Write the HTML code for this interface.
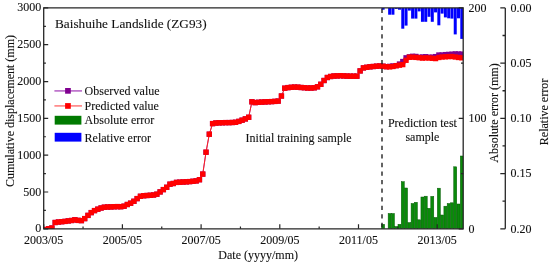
<!DOCTYPE html><html><head><meta charset="utf-8"><style>html,body{margin:0;padding:0;background:#fff;}svg{display:block;}text{font-family:"Liberation Serif","Times New Roman",serif;font-size:12px;fill:#111;stroke:#111;stroke-width:0.1px;}</style></head><body>
<svg width="550" height="264" viewBox="0 0 550 264">
<rect width="550" height="264" fill="#fff"/>
<defs><clipPath id="pc"><rect x="43.7" y="7.9" width="419.5" height="220.9"/></clipPath></defs>
<g clip-path="url(#pc)"><rect x="381.59" y="7.90" width="3.00" height="1.80" fill="#0000ff"/><rect x="381.59" y="224.30" width="3.00" height="4.50" fill="#0a8a0a" stroke="#065a06" stroke-width="0.5"/><rect x="388.15" y="7.90" width="3.00" height="6.80" fill="#0000ff"/><rect x="388.15" y="213.50" width="3.00" height="15.30" fill="#0a8a0a" stroke="#065a06" stroke-width="0.5"/><rect x="391.43" y="7.90" width="3.00" height="6.80" fill="#0000ff"/><rect x="391.43" y="213.50" width="3.00" height="15.30" fill="#0a8a0a" stroke="#065a06" stroke-width="0.5"/><rect x="394.71" y="7.90" width="3.00" height="1.00" fill="#0000ff"/><rect x="394.71" y="226.50" width="3.00" height="2.30" fill="#0a8a0a" stroke="#065a06" stroke-width="0.5"/><rect x="397.99" y="7.90" width="3.00" height="1.80" fill="#0000ff"/><rect x="397.99" y="224.30" width="3.00" height="4.50" fill="#0a8a0a" stroke="#065a06" stroke-width="0.5"/><rect x="401.27" y="7.90" width="3.00" height="20.80" fill="#0000ff"/><rect x="401.27" y="181.70" width="3.00" height="47.10" fill="#0a8a0a" stroke="#065a06" stroke-width="0.5"/><rect x="404.55" y="7.90" width="3.00" height="17.70" fill="#0000ff"/><rect x="404.55" y="188.00" width="3.00" height="40.80" fill="#0a8a0a" stroke="#065a06" stroke-width="0.5"/><rect x="407.83" y="7.90" width="3.00" height="2.70" fill="#0000ff"/><rect x="407.83" y="222.60" width="3.00" height="6.20" fill="#0a8a0a" stroke="#065a06" stroke-width="0.5"/><rect x="411.11" y="7.90" width="3.00" height="10.70" fill="#0000ff"/><rect x="411.11" y="203.50" width="3.00" height="25.30" fill="#0a8a0a" stroke="#065a06" stroke-width="0.5"/><rect x="414.39" y="7.90" width="3.00" height="10.70" fill="#0000ff"/><rect x="414.39" y="202.30" width="3.00" height="26.50" fill="#0a8a0a" stroke="#065a06" stroke-width="0.5"/><rect x="417.66" y="7.90" width="3.00" height="3.50" fill="#0000ff"/><rect x="417.66" y="219.80" width="3.00" height="9.00" fill="#0a8a0a" stroke="#065a06" stroke-width="0.5"/><rect x="420.94" y="7.90" width="3.00" height="13.90" fill="#0000ff"/><rect x="420.94" y="197.00" width="3.00" height="31.80" fill="#0a8a0a" stroke="#065a06" stroke-width="0.5"/><rect x="424.22" y="7.90" width="3.00" height="13.90" fill="#0000ff"/><rect x="424.22" y="196.20" width="3.00" height="32.60" fill="#0a8a0a" stroke="#065a06" stroke-width="0.5"/><rect x="427.50" y="7.90" width="3.00" height="8.90" fill="#0000ff"/><rect x="427.50" y="208.30" width="3.00" height="20.50" fill="#0a8a0a" stroke="#065a06" stroke-width="0.5"/><rect x="430.78" y="7.90" width="3.00" height="13.90" fill="#0000ff"/><rect x="430.78" y="196.40" width="3.00" height="32.40" fill="#0a8a0a" stroke="#065a06" stroke-width="0.5"/><rect x="434.06" y="7.90" width="3.00" height="4.50" fill="#0000ff"/><rect x="434.06" y="217.50" width="3.00" height="11.30" fill="#0a8a0a" stroke="#065a06" stroke-width="0.5"/><rect x="437.34" y="7.90" width="3.00" height="17.40" fill="#0000ff"/><rect x="437.34" y="188.20" width="3.00" height="40.60" fill="#0a8a0a" stroke="#065a06" stroke-width="0.5"/><rect x="440.62" y="7.90" width="3.00" height="5.70" fill="#0000ff"/><rect x="440.62" y="215.00" width="3.00" height="13.80" fill="#0a8a0a" stroke="#065a06" stroke-width="0.5"/><rect x="443.90" y="7.90" width="3.00" height="9.50" fill="#0000ff"/><rect x="443.90" y="206.20" width="3.00" height="22.60" fill="#0a8a0a" stroke="#065a06" stroke-width="0.5"/><rect x="447.18" y="7.90" width="3.00" height="10.40" fill="#0000ff"/><rect x="447.18" y="203.50" width="3.00" height="25.30" fill="#0a8a0a" stroke="#065a06" stroke-width="0.5"/><rect x="450.46" y="7.90" width="3.00" height="10.70" fill="#0000ff"/><rect x="450.46" y="202.80" width="3.00" height="26.00" fill="#0a8a0a" stroke="#065a06" stroke-width="0.5"/><rect x="453.74" y="7.90" width="3.00" height="26.50" fill="#0000ff"/><rect x="453.74" y="166.80" width="3.00" height="62.00" fill="#0a8a0a" stroke="#065a06" stroke-width="0.5"/><rect x="457.01" y="7.90" width="3.00" height="10.40" fill="#0000ff"/><rect x="457.01" y="204.00" width="3.00" height="24.80" fill="#0a8a0a" stroke="#065a06" stroke-width="0.5"/><rect x="460.29" y="7.90" width="3.00" height="31.00" fill="#0000ff"/><rect x="460.29" y="156.00" width="3.00" height="72.80" fill="#0a8a0a" stroke="#065a06" stroke-width="0.5"/>
<polyline points="45.34,229.50 48.62,228.70 51.90,228.00 55.18,222.50 58.46,222.00 61.74,221.70 65.01,221.40 68.29,220.90 71.57,220.50 74.85,219.80 78.13,220.40 81.41,220.60 84.69,218.60 87.97,215.40 91.25,212.60 94.53,210.60 97.81,209.20 101.09,208.00 104.36,207.20 107.64,207.00 110.92,206.90 114.20,206.70 117.48,206.60 120.76,206.70 124.04,206.20 127.32,204.50 130.60,203.20 133.88,201.30 137.16,198.60 140.44,196.30 143.71,195.70 146.99,195.50 150.27,195.30 153.55,195.00 156.83,194.20 160.11,191.90 163.39,189.60 166.67,187.30 169.95,184.20 173.23,183.50 176.51,182.40 179.79,182.20 183.06,182.00 186.34,181.80 189.62,181.60 192.90,181.30 196.18,180.90 199.46,179.70 202.74,174.10 206.02,152.20 209.30,134.20 212.58,123.60 215.86,123.00 219.14,122.80 222.41,122.70 225.69,122.60 228.97,122.60 232.25,122.50 235.53,122.30 238.81,121.40 242.09,120.20 245.37,118.90 248.65,117.30 251.93,101.80 255.21,102.60 258.49,102.30 261.76,102.10 265.04,101.90 268.32,101.70 271.60,101.60 274.88,101.40 278.16,101.10 281.44,96.00 284.72,88.20 288.00,87.60 291.28,87.30 294.56,87.10 297.84,87.20 301.11,87.50 304.39,87.70 307.67,88.00 310.95,88.00 314.23,87.80 317.51,86.80 320.79,84.30 324.07,80.50 327.35,77.50 330.63,76.50 333.91,76.00 337.19,75.90 340.46,75.70 343.74,75.90 347.02,76.10 350.30,76.20 353.58,76.20 356.86,76.20 360.14,70.90 363.42,67.90 366.70,67.30 369.98,66.80 373.26,66.50 376.54,66.20 379.81,66.00 383.09,66.13 386.37,66.70 389.65,66.34 392.93,65.94 396.21,65.62 399.49,64.00 402.77,61.50 406.05,57.80 409.33,56.80 412.61,56.27 415.89,56.43 419.16,57.37 422.44,56.93 425.72,56.70 429.00,57.25 432.28,57.11 435.56,56.60 438.84,55.00 442.12,55.00 445.40,54.60 448.68,54.40 451.96,54.20 455.24,53.90 458.51,54.00 461.79,54.10" fill="none" stroke="#a040b0" stroke-width="1"/>
<rect x="42.69" y="226.85" width="5.3" height="5.3" fill="#800090"/><rect x="45.97" y="226.05" width="5.3" height="5.3" fill="#800090"/><rect x="49.25" y="225.35" width="5.3" height="5.3" fill="#800090"/><rect x="52.53" y="219.85" width="5.3" height="5.3" fill="#800090"/><rect x="55.81" y="219.35" width="5.3" height="5.3" fill="#800090"/><rect x="59.09" y="219.05" width="5.3" height="5.3" fill="#800090"/><rect x="62.36" y="218.75" width="5.3" height="5.3" fill="#800090"/><rect x="65.64" y="218.25" width="5.3" height="5.3" fill="#800090"/><rect x="68.92" y="217.85" width="5.3" height="5.3" fill="#800090"/><rect x="72.20" y="217.15" width="5.3" height="5.3" fill="#800090"/><rect x="75.48" y="217.75" width="5.3" height="5.3" fill="#800090"/><rect x="78.76" y="217.95" width="5.3" height="5.3" fill="#800090"/><rect x="82.04" y="215.95" width="5.3" height="5.3" fill="#800090"/><rect x="85.32" y="212.75" width="5.3" height="5.3" fill="#800090"/><rect x="88.60" y="209.95" width="5.3" height="5.3" fill="#800090"/><rect x="91.88" y="207.95" width="5.3" height="5.3" fill="#800090"/><rect x="95.16" y="206.55" width="5.3" height="5.3" fill="#800090"/><rect x="98.44" y="205.35" width="5.3" height="5.3" fill="#800090"/><rect x="101.71" y="204.55" width="5.3" height="5.3" fill="#800090"/><rect x="104.99" y="204.35" width="5.3" height="5.3" fill="#800090"/><rect x="108.27" y="204.25" width="5.3" height="5.3" fill="#800090"/><rect x="111.55" y="204.05" width="5.3" height="5.3" fill="#800090"/><rect x="114.83" y="203.95" width="5.3" height="5.3" fill="#800090"/><rect x="118.11" y="204.05" width="5.3" height="5.3" fill="#800090"/><rect x="121.39" y="203.55" width="5.3" height="5.3" fill="#800090"/><rect x="124.67" y="201.85" width="5.3" height="5.3" fill="#800090"/><rect x="127.95" y="200.55" width="5.3" height="5.3" fill="#800090"/><rect x="131.23" y="198.65" width="5.3" height="5.3" fill="#800090"/><rect x="134.51" y="195.95" width="5.3" height="5.3" fill="#800090"/><rect x="137.79" y="193.65" width="5.3" height="5.3" fill="#800090"/><rect x="141.06" y="193.05" width="5.3" height="5.3" fill="#800090"/><rect x="144.34" y="192.85" width="5.3" height="5.3" fill="#800090"/><rect x="147.62" y="192.65" width="5.3" height="5.3" fill="#800090"/><rect x="150.90" y="192.35" width="5.3" height="5.3" fill="#800090"/><rect x="154.18" y="191.55" width="5.3" height="5.3" fill="#800090"/><rect x="157.46" y="189.25" width="5.3" height="5.3" fill="#800090"/><rect x="160.74" y="186.95" width="5.3" height="5.3" fill="#800090"/><rect x="164.02" y="184.65" width="5.3" height="5.3" fill="#800090"/><rect x="167.30" y="181.55" width="5.3" height="5.3" fill="#800090"/><rect x="170.58" y="180.85" width="5.3" height="5.3" fill="#800090"/><rect x="173.86" y="179.75" width="5.3" height="5.3" fill="#800090"/><rect x="177.14" y="179.55" width="5.3" height="5.3" fill="#800090"/><rect x="180.41" y="179.35" width="5.3" height="5.3" fill="#800090"/><rect x="183.69" y="179.15" width="5.3" height="5.3" fill="#800090"/><rect x="186.97" y="178.95" width="5.3" height="5.3" fill="#800090"/><rect x="190.25" y="178.65" width="5.3" height="5.3" fill="#800090"/><rect x="193.53" y="178.25" width="5.3" height="5.3" fill="#800090"/><rect x="196.81" y="177.05" width="5.3" height="5.3" fill="#800090"/><rect x="200.09" y="171.45" width="5.3" height="5.3" fill="#800090"/><rect x="203.37" y="149.55" width="5.3" height="5.3" fill="#800090"/><rect x="206.65" y="131.55" width="5.3" height="5.3" fill="#800090"/><rect x="209.93" y="120.95" width="5.3" height="5.3" fill="#800090"/><rect x="213.21" y="120.35" width="5.3" height="5.3" fill="#800090"/><rect x="216.49" y="120.15" width="5.3" height="5.3" fill="#800090"/><rect x="219.76" y="120.05" width="5.3" height="5.3" fill="#800090"/><rect x="223.04" y="119.95" width="5.3" height="5.3" fill="#800090"/><rect x="226.32" y="119.95" width="5.3" height="5.3" fill="#800090"/><rect x="229.60" y="119.85" width="5.3" height="5.3" fill="#800090"/><rect x="232.88" y="119.65" width="5.3" height="5.3" fill="#800090"/><rect x="236.16" y="118.75" width="5.3" height="5.3" fill="#800090"/><rect x="239.44" y="117.55" width="5.3" height="5.3" fill="#800090"/><rect x="242.72" y="116.25" width="5.3" height="5.3" fill="#800090"/><rect x="246.00" y="114.65" width="5.3" height="5.3" fill="#800090"/><rect x="249.28" y="99.15" width="5.3" height="5.3" fill="#800090"/><rect x="252.56" y="99.95" width="5.3" height="5.3" fill="#800090"/><rect x="255.84" y="99.65" width="5.3" height="5.3" fill="#800090"/><rect x="259.11" y="99.45" width="5.3" height="5.3" fill="#800090"/><rect x="262.39" y="99.25" width="5.3" height="5.3" fill="#800090"/><rect x="265.67" y="99.05" width="5.3" height="5.3" fill="#800090"/><rect x="268.95" y="98.95" width="5.3" height="5.3" fill="#800090"/><rect x="272.23" y="98.75" width="5.3" height="5.3" fill="#800090"/><rect x="275.51" y="98.45" width="5.3" height="5.3" fill="#800090"/><rect x="278.79" y="93.35" width="5.3" height="5.3" fill="#800090"/><rect x="282.07" y="85.55" width="5.3" height="5.3" fill="#800090"/><rect x="285.35" y="84.95" width="5.3" height="5.3" fill="#800090"/><rect x="288.63" y="84.65" width="5.3" height="5.3" fill="#800090"/><rect x="291.91" y="84.45" width="5.3" height="5.3" fill="#800090"/><rect x="295.19" y="84.55" width="5.3" height="5.3" fill="#800090"/><rect x="298.46" y="84.85" width="5.3" height="5.3" fill="#800090"/><rect x="301.74" y="85.05" width="5.3" height="5.3" fill="#800090"/><rect x="305.02" y="85.35" width="5.3" height="5.3" fill="#800090"/><rect x="308.30" y="85.35" width="5.3" height="5.3" fill="#800090"/><rect x="311.58" y="85.15" width="5.3" height="5.3" fill="#800090"/><rect x="314.86" y="84.15" width="5.3" height="5.3" fill="#800090"/><rect x="318.14" y="81.65" width="5.3" height="5.3" fill="#800090"/><rect x="321.42" y="77.85" width="5.3" height="5.3" fill="#800090"/><rect x="324.70" y="74.85" width="5.3" height="5.3" fill="#800090"/><rect x="327.98" y="73.85" width="5.3" height="5.3" fill="#800090"/><rect x="331.26" y="73.35" width="5.3" height="5.3" fill="#800090"/><rect x="334.54" y="73.25" width="5.3" height="5.3" fill="#800090"/><rect x="337.81" y="73.05" width="5.3" height="5.3" fill="#800090"/><rect x="341.09" y="73.25" width="5.3" height="5.3" fill="#800090"/><rect x="344.37" y="73.45" width="5.3" height="5.3" fill="#800090"/><rect x="347.65" y="73.55" width="5.3" height="5.3" fill="#800090"/><rect x="350.93" y="73.55" width="5.3" height="5.3" fill="#800090"/><rect x="354.21" y="73.55" width="5.3" height="5.3" fill="#800090"/><rect x="357.49" y="68.25" width="5.3" height="5.3" fill="#800090"/><rect x="360.77" y="65.25" width="5.3" height="5.3" fill="#800090"/><rect x="364.05" y="64.65" width="5.3" height="5.3" fill="#800090"/><rect x="367.33" y="64.15" width="5.3" height="5.3" fill="#800090"/><rect x="370.61" y="63.85" width="5.3" height="5.3" fill="#800090"/><rect x="373.89" y="63.55" width="5.3" height="5.3" fill="#800090"/><rect x="377.16" y="63.35" width="5.3" height="5.3" fill="#800090"/><rect x="380.44" y="63.48" width="5.3" height="5.3" fill="#800090"/><rect x="383.72" y="64.05" width="5.3" height="5.3" fill="#800090"/><rect x="387.00" y="63.69" width="5.3" height="5.3" fill="#800090"/><rect x="390.28" y="63.29" width="5.3" height="5.3" fill="#800090"/><rect x="393.56" y="62.97" width="5.3" height="5.3" fill="#800090"/><rect x="396.84" y="61.35" width="5.3" height="5.3" fill="#800090"/><rect x="400.12" y="58.85" width="5.3" height="5.3" fill="#800090"/><rect x="403.40" y="55.15" width="5.3" height="5.3" fill="#800090"/><rect x="406.68" y="54.15" width="5.3" height="5.3" fill="#800090"/><rect x="409.96" y="53.62" width="5.3" height="5.3" fill="#800090"/><rect x="413.24" y="53.78" width="5.3" height="5.3" fill="#800090"/><rect x="416.51" y="54.72" width="5.3" height="5.3" fill="#800090"/><rect x="419.79" y="54.28" width="5.3" height="5.3" fill="#800090"/><rect x="423.07" y="54.05" width="5.3" height="5.3" fill="#800090"/><rect x="426.35" y="54.60" width="5.3" height="5.3" fill="#800090"/><rect x="429.63" y="54.46" width="5.3" height="5.3" fill="#800090"/><rect x="432.91" y="53.95" width="5.3" height="5.3" fill="#800090"/><rect x="436.19" y="52.35" width="5.3" height="5.3" fill="#800090"/><rect x="439.47" y="52.35" width="5.3" height="5.3" fill="#800090"/><rect x="442.75" y="51.95" width="5.3" height="5.3" fill="#800090"/><rect x="446.03" y="51.75" width="5.3" height="5.3" fill="#800090"/><rect x="449.31" y="51.55" width="5.3" height="5.3" fill="#800090"/><rect x="452.59" y="51.25" width="5.3" height="5.3" fill="#800090"/><rect x="455.86" y="51.35" width="5.3" height="5.3" fill="#800090"/><rect x="459.14" y="51.45" width="5.3" height="5.3" fill="#800090"/>
<polyline points="45.34,229.50 48.62,228.70 51.90,228.00 55.18,222.50 58.46,222.00 61.74,221.70 65.01,221.40 68.29,220.90 71.57,220.50 74.85,219.80 78.13,220.40 81.41,220.60 84.69,218.60 87.97,215.40 91.25,212.60 94.53,210.60 97.81,209.20 101.09,208.00 104.36,207.20 107.64,207.00 110.92,206.90 114.20,206.70 117.48,206.60 120.76,206.70 124.04,206.20 127.32,204.50 130.60,203.20 133.88,201.30 137.16,198.60 140.44,196.30 143.71,195.70 146.99,195.50 150.27,195.30 153.55,195.00 156.83,194.20 160.11,191.90 163.39,189.60 166.67,187.30 169.95,184.20 173.23,183.50 176.51,182.40 179.79,182.20 183.06,182.00 186.34,181.80 189.62,181.60 192.90,181.30 196.18,180.90 199.46,179.70 202.74,174.10 206.02,152.20 209.30,134.20 212.58,123.60 215.86,123.00 219.14,122.80 222.41,122.70 225.69,122.60 228.97,122.60 232.25,122.50 235.53,122.30 238.81,121.40 242.09,120.20 245.37,118.90 248.65,117.30 251.93,101.80 255.21,102.60 258.49,102.30 261.76,102.10 265.04,101.90 268.32,101.70 271.60,101.60 274.88,101.40 278.16,101.10 281.44,96.00 284.72,88.20 288.00,87.60 291.28,87.30 294.56,87.10 297.84,87.20 301.11,87.50 304.39,87.70 307.67,88.00 310.95,88.00 314.23,87.80 317.51,86.80 320.79,84.30 324.07,80.50 327.35,77.50 330.63,76.50 333.91,76.00 337.19,75.90 340.46,75.70 343.74,75.90 347.02,76.10 350.30,76.20 353.58,76.20 356.86,76.20 360.14,70.90 363.42,67.90 366.70,67.30 369.98,66.80 373.26,66.50 376.54,66.20 379.81,66.00 383.09,66.30 386.37,66.70 389.65,66.90 392.93,66.50 396.21,65.70 399.49,65.20 402.77,64.60 406.05,60.30 409.33,57.30 412.61,57.20 415.89,57.40 419.16,57.70 422.44,58.10 425.72,57.90 429.00,58.00 432.28,58.30 435.56,58.60 438.84,57.50 442.12,57.00 445.40,56.80 448.68,56.60 451.96,56.50 455.24,57.00 458.51,57.50 461.79,57.80" fill="none" stroke="#ff2020" stroke-width="1"/>
<rect x="42.69" y="226.85" width="5.3" height="5.3" fill="#ff0000"/><rect x="45.97" y="226.05" width="5.3" height="5.3" fill="#ff0000"/><rect x="49.25" y="225.35" width="5.3" height="5.3" fill="#ff0000"/><rect x="52.53" y="219.85" width="5.3" height="5.3" fill="#ff0000"/><rect x="55.81" y="219.35" width="5.3" height="5.3" fill="#ff0000"/><rect x="59.09" y="219.05" width="5.3" height="5.3" fill="#ff0000"/><rect x="62.36" y="218.75" width="5.3" height="5.3" fill="#ff0000"/><rect x="65.64" y="218.25" width="5.3" height="5.3" fill="#ff0000"/><rect x="68.92" y="217.85" width="5.3" height="5.3" fill="#ff0000"/><rect x="72.20" y="217.15" width="5.3" height="5.3" fill="#ff0000"/><rect x="75.48" y="217.75" width="5.3" height="5.3" fill="#ff0000"/><rect x="78.76" y="217.95" width="5.3" height="5.3" fill="#ff0000"/><rect x="82.04" y="215.95" width="5.3" height="5.3" fill="#ff0000"/><rect x="85.32" y="212.75" width="5.3" height="5.3" fill="#ff0000"/><rect x="88.60" y="209.95" width="5.3" height="5.3" fill="#ff0000"/><rect x="91.88" y="207.95" width="5.3" height="5.3" fill="#ff0000"/><rect x="95.16" y="206.55" width="5.3" height="5.3" fill="#ff0000"/><rect x="98.44" y="205.35" width="5.3" height="5.3" fill="#ff0000"/><rect x="101.71" y="204.55" width="5.3" height="5.3" fill="#ff0000"/><rect x="104.99" y="204.35" width="5.3" height="5.3" fill="#ff0000"/><rect x="108.27" y="204.25" width="5.3" height="5.3" fill="#ff0000"/><rect x="111.55" y="204.05" width="5.3" height="5.3" fill="#ff0000"/><rect x="114.83" y="203.95" width="5.3" height="5.3" fill="#ff0000"/><rect x="118.11" y="204.05" width="5.3" height="5.3" fill="#ff0000"/><rect x="121.39" y="203.55" width="5.3" height="5.3" fill="#ff0000"/><rect x="124.67" y="201.85" width="5.3" height="5.3" fill="#ff0000"/><rect x="127.95" y="200.55" width="5.3" height="5.3" fill="#ff0000"/><rect x="131.23" y="198.65" width="5.3" height="5.3" fill="#ff0000"/><rect x="134.51" y="195.95" width="5.3" height="5.3" fill="#ff0000"/><rect x="137.79" y="193.65" width="5.3" height="5.3" fill="#ff0000"/><rect x="141.06" y="193.05" width="5.3" height="5.3" fill="#ff0000"/><rect x="144.34" y="192.85" width="5.3" height="5.3" fill="#ff0000"/><rect x="147.62" y="192.65" width="5.3" height="5.3" fill="#ff0000"/><rect x="150.90" y="192.35" width="5.3" height="5.3" fill="#ff0000"/><rect x="154.18" y="191.55" width="5.3" height="5.3" fill="#ff0000"/><rect x="157.46" y="189.25" width="5.3" height="5.3" fill="#ff0000"/><rect x="160.74" y="186.95" width="5.3" height="5.3" fill="#ff0000"/><rect x="164.02" y="184.65" width="5.3" height="5.3" fill="#ff0000"/><rect x="167.30" y="181.55" width="5.3" height="5.3" fill="#ff0000"/><rect x="170.58" y="180.85" width="5.3" height="5.3" fill="#ff0000"/><rect x="173.86" y="179.75" width="5.3" height="5.3" fill="#ff0000"/><rect x="177.14" y="179.55" width="5.3" height="5.3" fill="#ff0000"/><rect x="180.41" y="179.35" width="5.3" height="5.3" fill="#ff0000"/><rect x="183.69" y="179.15" width="5.3" height="5.3" fill="#ff0000"/><rect x="186.97" y="178.95" width="5.3" height="5.3" fill="#ff0000"/><rect x="190.25" y="178.65" width="5.3" height="5.3" fill="#ff0000"/><rect x="193.53" y="178.25" width="5.3" height="5.3" fill="#ff0000"/><rect x="196.81" y="177.05" width="5.3" height="5.3" fill="#ff0000"/><rect x="200.09" y="171.45" width="5.3" height="5.3" fill="#ff0000"/><rect x="203.37" y="149.55" width="5.3" height="5.3" fill="#ff0000"/><rect x="206.65" y="131.55" width="5.3" height="5.3" fill="#ff0000"/><rect x="209.93" y="120.95" width="5.3" height="5.3" fill="#ff0000"/><rect x="213.21" y="120.35" width="5.3" height="5.3" fill="#ff0000"/><rect x="216.49" y="120.15" width="5.3" height="5.3" fill="#ff0000"/><rect x="219.76" y="120.05" width="5.3" height="5.3" fill="#ff0000"/><rect x="223.04" y="119.95" width="5.3" height="5.3" fill="#ff0000"/><rect x="226.32" y="119.95" width="5.3" height="5.3" fill="#ff0000"/><rect x="229.60" y="119.85" width="5.3" height="5.3" fill="#ff0000"/><rect x="232.88" y="119.65" width="5.3" height="5.3" fill="#ff0000"/><rect x="236.16" y="118.75" width="5.3" height="5.3" fill="#ff0000"/><rect x="239.44" y="117.55" width="5.3" height="5.3" fill="#ff0000"/><rect x="242.72" y="116.25" width="5.3" height="5.3" fill="#ff0000"/><rect x="246.00" y="114.65" width="5.3" height="5.3" fill="#ff0000"/><rect x="249.28" y="99.15" width="5.3" height="5.3" fill="#ff0000"/><rect x="252.56" y="99.95" width="5.3" height="5.3" fill="#ff0000"/><rect x="255.84" y="99.65" width="5.3" height="5.3" fill="#ff0000"/><rect x="259.11" y="99.45" width="5.3" height="5.3" fill="#ff0000"/><rect x="262.39" y="99.25" width="5.3" height="5.3" fill="#ff0000"/><rect x="265.67" y="99.05" width="5.3" height="5.3" fill="#ff0000"/><rect x="268.95" y="98.95" width="5.3" height="5.3" fill="#ff0000"/><rect x="272.23" y="98.75" width="5.3" height="5.3" fill="#ff0000"/><rect x="275.51" y="98.45" width="5.3" height="5.3" fill="#ff0000"/><rect x="278.79" y="93.35" width="5.3" height="5.3" fill="#ff0000"/><rect x="282.07" y="85.55" width="5.3" height="5.3" fill="#ff0000"/><rect x="285.35" y="84.95" width="5.3" height="5.3" fill="#ff0000"/><rect x="288.63" y="84.65" width="5.3" height="5.3" fill="#ff0000"/><rect x="291.91" y="84.45" width="5.3" height="5.3" fill="#ff0000"/><rect x="295.19" y="84.55" width="5.3" height="5.3" fill="#ff0000"/><rect x="298.46" y="84.85" width="5.3" height="5.3" fill="#ff0000"/><rect x="301.74" y="85.05" width="5.3" height="5.3" fill="#ff0000"/><rect x="305.02" y="85.35" width="5.3" height="5.3" fill="#ff0000"/><rect x="308.30" y="85.35" width="5.3" height="5.3" fill="#ff0000"/><rect x="311.58" y="85.15" width="5.3" height="5.3" fill="#ff0000"/><rect x="314.86" y="84.15" width="5.3" height="5.3" fill="#ff0000"/><rect x="318.14" y="81.65" width="5.3" height="5.3" fill="#ff0000"/><rect x="321.42" y="77.85" width="5.3" height="5.3" fill="#ff0000"/><rect x="324.70" y="74.85" width="5.3" height="5.3" fill="#ff0000"/><rect x="327.98" y="73.85" width="5.3" height="5.3" fill="#ff0000"/><rect x="331.26" y="73.35" width="5.3" height="5.3" fill="#ff0000"/><rect x="334.54" y="73.25" width="5.3" height="5.3" fill="#ff0000"/><rect x="337.81" y="73.05" width="5.3" height="5.3" fill="#ff0000"/><rect x="341.09" y="73.25" width="5.3" height="5.3" fill="#ff0000"/><rect x="344.37" y="73.45" width="5.3" height="5.3" fill="#ff0000"/><rect x="347.65" y="73.55" width="5.3" height="5.3" fill="#ff0000"/><rect x="350.93" y="73.55" width="5.3" height="5.3" fill="#ff0000"/><rect x="354.21" y="73.55" width="5.3" height="5.3" fill="#ff0000"/><rect x="357.49" y="68.25" width="5.3" height="5.3" fill="#ff0000"/><rect x="360.77" y="65.25" width="5.3" height="5.3" fill="#ff0000"/><rect x="364.05" y="64.65" width="5.3" height="5.3" fill="#ff0000"/><rect x="367.33" y="64.15" width="5.3" height="5.3" fill="#ff0000"/><rect x="370.61" y="63.85" width="5.3" height="5.3" fill="#ff0000"/><rect x="373.89" y="63.55" width="5.3" height="5.3" fill="#ff0000"/><rect x="377.16" y="63.35" width="5.3" height="5.3" fill="#ff0000"/><rect x="380.44" y="63.65" width="5.3" height="5.3" fill="#ff0000"/><rect x="383.72" y="64.05" width="5.3" height="5.3" fill="#ff0000"/><rect x="387.00" y="64.25" width="5.3" height="5.3" fill="#ff0000"/><rect x="390.28" y="63.85" width="5.3" height="5.3" fill="#ff0000"/><rect x="393.56" y="63.05" width="5.3" height="5.3" fill="#ff0000"/><rect x="396.84" y="62.55" width="5.3" height="5.3" fill="#ff0000"/><rect x="400.12" y="61.95" width="5.3" height="5.3" fill="#ff0000"/><rect x="403.40" y="57.65" width="5.3" height="5.3" fill="#ff0000"/><rect x="406.68" y="54.65" width="5.3" height="5.3" fill="#ff0000"/><rect x="409.96" y="54.55" width="5.3" height="5.3" fill="#ff0000"/><rect x="413.24" y="54.75" width="5.3" height="5.3" fill="#ff0000"/><rect x="416.51" y="55.05" width="5.3" height="5.3" fill="#ff0000"/><rect x="419.79" y="55.45" width="5.3" height="5.3" fill="#ff0000"/><rect x="423.07" y="55.25" width="5.3" height="5.3" fill="#ff0000"/><rect x="426.35" y="55.35" width="5.3" height="5.3" fill="#ff0000"/><rect x="429.63" y="55.65" width="5.3" height="5.3" fill="#ff0000"/><rect x="432.91" y="55.95" width="5.3" height="5.3" fill="#ff0000"/><rect x="436.19" y="54.85" width="5.3" height="5.3" fill="#ff0000"/><rect x="439.47" y="54.35" width="5.3" height="5.3" fill="#ff0000"/><rect x="442.75" y="54.15" width="5.3" height="5.3" fill="#ff0000"/><rect x="446.03" y="53.95" width="5.3" height="5.3" fill="#ff0000"/><rect x="449.31" y="53.85" width="5.3" height="5.3" fill="#ff0000"/><rect x="452.59" y="54.35" width="5.3" height="5.3" fill="#ff0000"/><rect x="455.86" y="54.85" width="5.3" height="5.3" fill="#ff0000"/><rect x="459.14" y="55.15" width="5.3" height="5.3" fill="#ff0000"/>
</g>
<line x1="382" y1="7.9" x2="382" y2="228.8" stroke="#222" stroke-width="1.4" stroke-dasharray="4.3,4.27" stroke-dashoffset="-0.7"/>
<path d="M43.7 7.9 V228.8 H463.2 V7.9 Z" fill="none" stroke="#262626" stroke-width="1.3"/>
<path d="M43.7 228.80h4.5 M43.7 210.39h2.2 M43.7 191.98h4.5 M43.7 173.58h2.2 M43.7 155.17h4.5 M43.7 136.76h2.2 M43.7 118.35h4.5 M43.7 99.94h2.2 M43.7 81.53h4.5 M43.7 63.13h2.2 M43.7 44.72h4.5 M43.7 26.31h2.2 M43.7 7.90h4.5 M43.70 228.8v-4.5 M83.05 228.8v-2.2 M122.40 228.8v-4.5 M161.75 228.8v-2.2 M201.10 228.8v-4.5 M240.45 228.8v-2.2 M279.80 228.8v-4.5 M319.15 228.8v-2.2 M358.50 228.8v-4.5 M397.85 228.8v-2.2 M437.20 228.8v-4.5 M463.2 228.80h-4.5 M463.2 173.58h-2.2 M463.2 118.35h-4.5 M463.2 63.12h-2.2 M463.2 7.90h-4.5" fill="none" stroke="#262626" stroke-width="1.2"/>
<path d="M505.3 7.9V228.8 M505.3 7.90h-5.0 M505.3 35.51h-2.8 M505.3 63.12h-5.0 M505.3 90.74h-2.8 M505.3 118.35h-5.0 M505.3 145.96h-2.8 M505.3 173.58h-5.0 M505.3 201.19h-2.8 M505.3 228.80h-5.0" fill="none" stroke="#262626" stroke-width="1.3"/>
<text x="41.2" y="232.3" text-anchor="end">0</text>
<text x="41.2" y="195.5" text-anchor="end">500</text>
<text x="41.2" y="158.7" text-anchor="end">1000</text>
<text x="41.2" y="121.9" text-anchor="end">1500</text>
<text x="41.2" y="85.0" text-anchor="end">2000</text>
<text x="41.2" y="48.2" text-anchor="end">2500</text>
<text x="41.2" y="11.4" text-anchor="end">3000</text>
<text x="43.7" y="243.7" text-anchor="middle">2003/05</text>
<text x="122.4" y="243.7" text-anchor="middle">2005/05</text>
<text x="201.1" y="243.7" text-anchor="middle">2007/05</text>
<text x="279.8" y="243.7" text-anchor="middle">2009/05</text>
<text x="358.5" y="243.7" text-anchor="middle">2011/05</text>
<text x="437.2" y="243.7" text-anchor="middle">2013/05</text>
<text x="468.6" y="232.6">0</text>
<text x="468.6" y="122.2">100</text>
<text x="468.6" y="11.7">200</text>
<text x="510.4" y="11.7">0.00</text>
<text x="510.4" y="66.9">0.05</text>
<text x="510.4" y="122.2">0.10</text>
<text x="510.4" y="177.4">0.15</text>
<text x="510.4" y="232.6">0.20</text>
<text x="258.2" y="258.6" text-anchor="middle">Date (yyyy/mm)</text>
<text transform="translate(14,111) rotate(-90)" text-anchor="middle">Cumulative displacement (mm)</text>
<text transform="translate(497.6,113) rotate(-90)" text-anchor="middle">Absolute error (mm)</text>
<text transform="translate(547.6,112) rotate(-90)" text-anchor="middle">Relative error</text>
<text x="55.0" y="27.9" style="font-size:13.25px">Baishuihe Landslide (ZG93)</text>
<line x1="54.4" y1="90.9" x2="82" y2="90.9" stroke="#b868c8" stroke-width="1.6"/>
<rect x="65.1" y="88.0" width="5.7" height="5.7" fill="#800090"/>
<line x1="54.4" y1="105.9" x2="82" y2="105.9" stroke="#ff8080" stroke-width="1.6"/>
<rect x="65.1" y="103.1" width="5.7" height="5.7" fill="#ff0000"/>
<rect x="54.7" y="115.8" width="26.7" height="8.8" fill="#007a00"/>
<rect x="54.7" y="132.8" width="26.7" height="8.8" fill="#0000ff"/>
<text x="84.6" y="95.4">Observed value</text>
<text x="84.6" y="109.5">Predicted value</text>
<text x="84.6" y="124.1">Absolute error</text>
<text x="84.6" y="141.6">Relative error</text>
<text x="298.6" y="141.5" text-anchor="middle">Initial training sample</text>
<text x="422.4" y="126.5" text-anchor="middle">Prediction test</text>
<text x="422.4" y="141.2" text-anchor="middle">sample</text>
</svg></body></html>
